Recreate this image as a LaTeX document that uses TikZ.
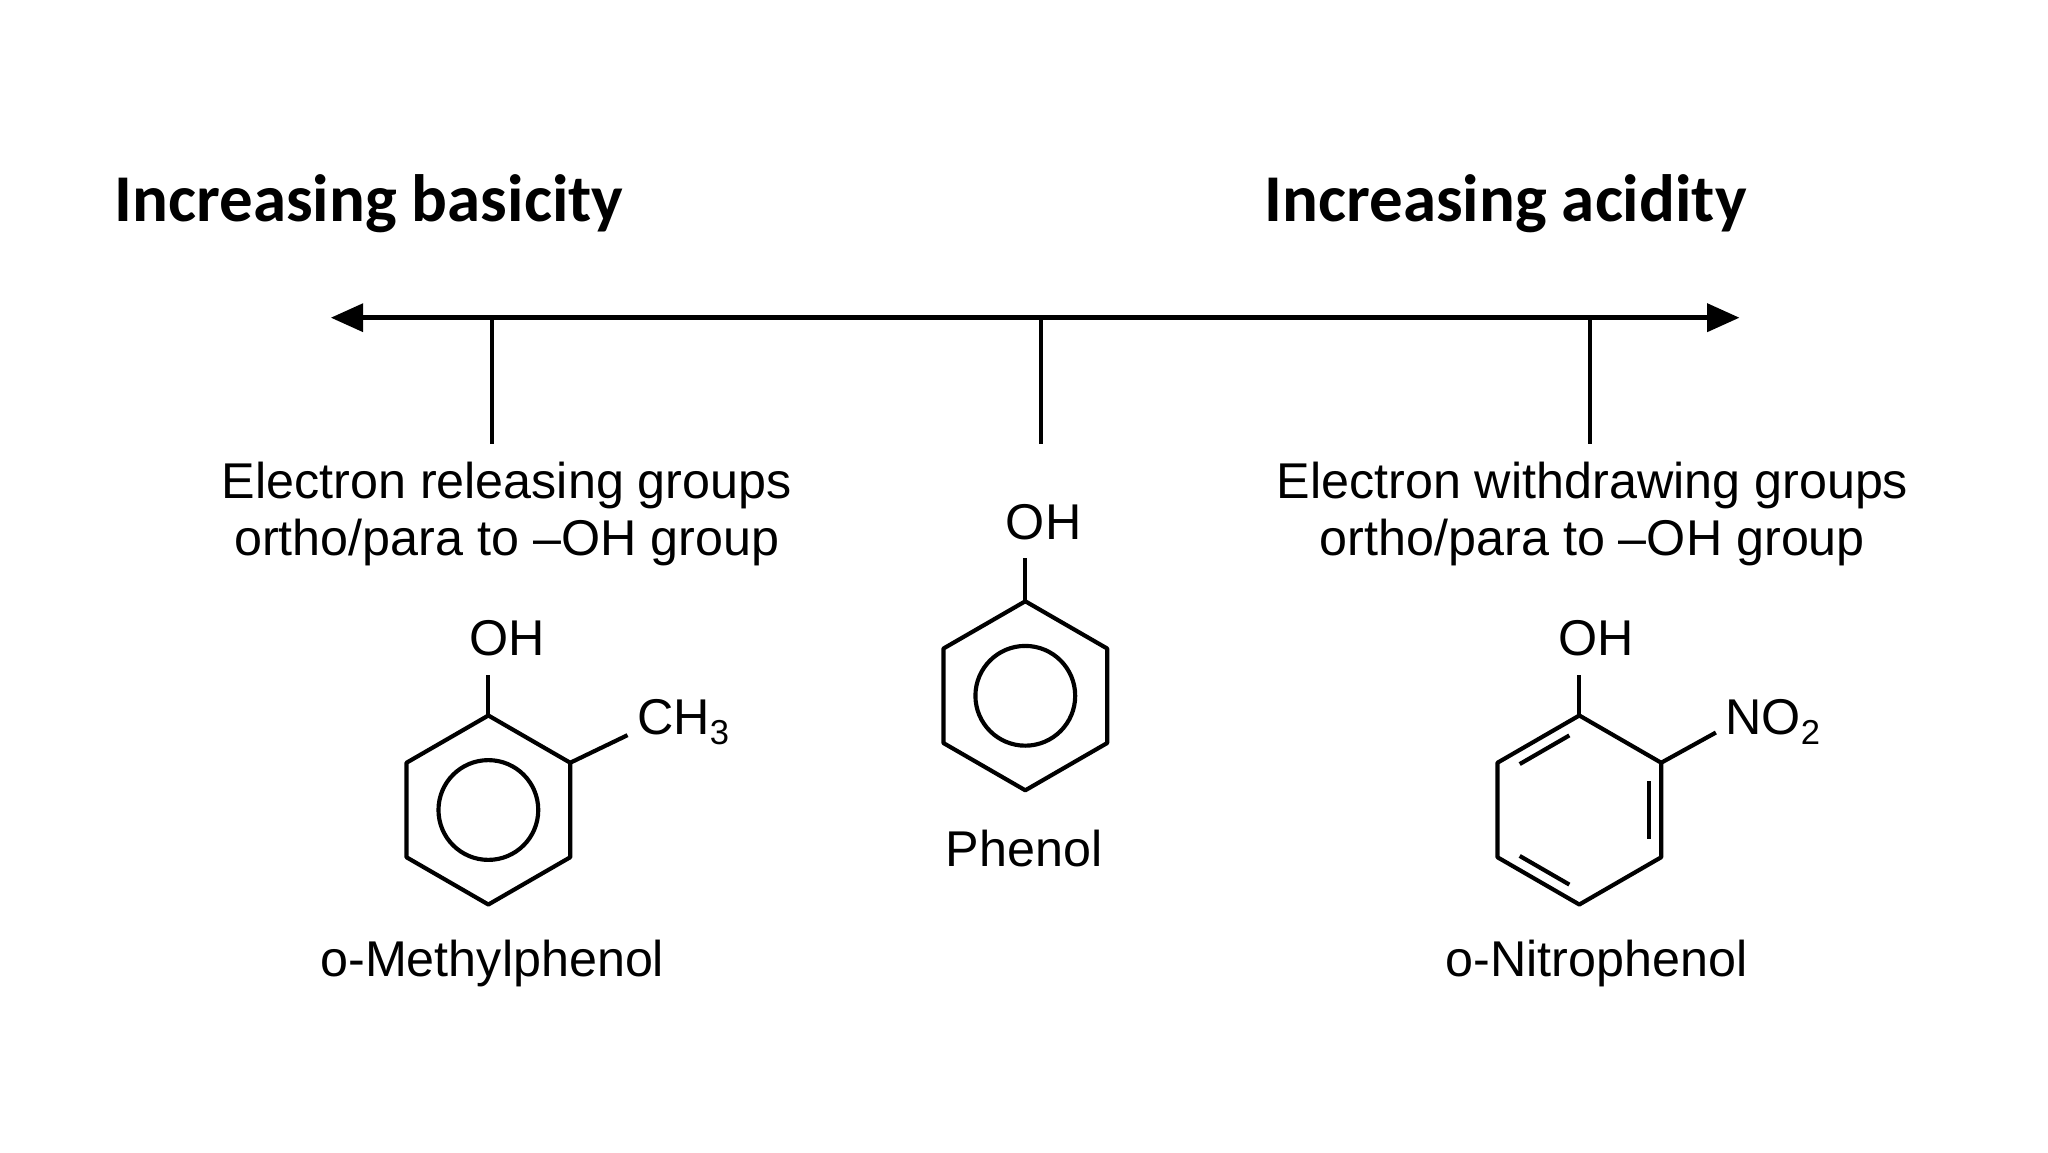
\documentclass[tikz,border=0pt]{standalone}
\usepackage{fontspec}
\setmainfont{Liberation Sans}
\newfontfamily\titlefont{Carlito}
\usetikzlibrary{arrows.meta,calc}
\newcommand{\mysub}[1]{\raisebox{-0.35ex}{\fontsize{15}{18}\selectfont #1}}
\begin{document}
\begin{tikzpicture}[x=0.02cm,y=-0.02cm,
  lbl/.style={font=\fontsize{21.8}{26}\selectfont,inner sep=0pt},
  ttl/.style={font=\titlefont\bfseries\fontsize{29}{34}\selectfont,inner sep=0pt,anchor=west},
  bond/.style={line width=1.8pt,line join=round},
  axis/.style={line width=2pt,{Triangle[length=14pt,width=12pt]}-{Triangle[length=14pt,width=12pt]}}]
\useasboundingbox (0,0) rectangle (1560,878);
\node[ttl] (tb) at (87,155) {Increasing basicity};
\node[ttl] (ta) at (963,155) {Increasing acidity};
\coordinate (al) at (252,242); \coordinate (ar) at (1325,242);
\draw[axis] (al) -- (ar);
\foreach \x/\n in {375/t1,793/t2,1211/t3}{
  \coordinate (\n a) at (\x,242); \coordinate (\n b) at (\x,338);
  \draw[bond] (\n a) -- (\n b);}
\node[lbl] (l1) at (386,370) {Electron releasing groups};
\node[lbl] (l2) at (386,413) {ortho/para to \textendash OH group};
\node[lbl] (r1) at (1213,370) {Electron withdrawing groups};
\node[lbl] (r2) at (1213,413) {ortho/para to \textendash OH group};
% phenol
\begin{scope}[shift={(781,530)}]
\foreach \i in {0,...,5}{\coordinate (p\i) at (-90+60*\i:72);}
\draw[bond] (p0)--(p1)--(p2)--(p3)--(p4)--(p5)--cycle;
\draw[bond] (0,0) circle (38);
\end{scope}
\node[lbl] (poh) at (795,398) {OH};
\draw[bond] (p0) -- ++(0,-33);
\node[lbl] (pn) at (780,646) {Phenol};
% o-methylphenol
\begin{scope}[shift={(372,617)}]
\foreach \i in {0,...,5}{\coordinate (m\i) at (-90+60*\i:72);}
\draw[bond] (m0)--(m1)--(m2)--(m3)--(m4)--(m5)--cycle;
\draw[bond] (0,0) circle (38);
\end{scope}
\node[lbl] (moh) at (386,486) {OH};
\draw[bond] (m0) -- ++(0,-31);
\coordinate (mc) at (478,560);
\draw[bond] (m1) -- (mc);
\node[lbl,anchor=west] (ch3) at (485,550) {CH\mysub{3}};
\node[lbl] (mn) at (375,734) {o-Methylphenol};
% o-nitrophenol
\begin{scope}[shift={(1203,617)}]
\foreach \i in {0,...,5}{\coordinate (n\i) at (-90+60*\i:72);}
\draw[bond] (n0)--(n1)--(n2)--(n3)--(n4)--(n5)--cycle;
\coordinate (nc0) at (0,0);
\foreach \a/\b in {0/5,1/2,3/4}{
  \draw[bond,shorten <=5pt,shorten >=5pt] ($(nc0)!0.85!(n\a)$) -- ($(nc0)!0.85!(n\b)$);}
\end{scope}
\node[lbl] (noh) at (1216,486) {OH};
\draw[bond] (n0) -- ++(0,-31);
\coordinate (nc) at (1307,558);
\draw[bond] (n1) -- (nc);
\node[lbl,anchor=west] (no2) at (1314,550) {NO\mysub{2}};
\node[lbl] (nn) at (1216,734) {o-Nitrophenol};
\end{tikzpicture}
\end{document}
